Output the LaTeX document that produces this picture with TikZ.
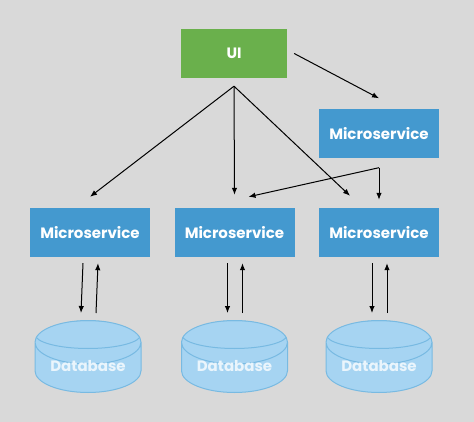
\documentclass[tikz,border=0pt]{standalone}
\usepackage{fontspec}
\setsansfont{Poppins}
\usetikzlibrary{shapes.geometric,arrows.meta}
\definecolor{bggray}{HTML}{D9D9D9}
\definecolor{uigreen}{HTML}{6AB04C}
\definecolor{msblue}{HTML}{4499CF}
\definecolor{dbfill}{HTML}{A6D4F2}
\definecolor{dbline}{HTML}{78BAE2}
\definecolor{dbtext}{HTML}{EAF5FC}
\begin{document}
\begin{tikzpicture}[
        x=1pt, y=-1pt,
        box/.style={
            rectangle,
            minimum width=120pt,
            minimum height=49pt,
            text=white,
            font=\sffamily\bfseries\fontsize{15}{17}\selectfont
        },
        database/.style={
            cylinder,
            shape border rotate=90,
            aspect=0.53,
            draw=dbline,
            line width=1pt,
            fill=dbfill,
            minimum width=106pt,
            minimum height=72pt,
            anchor=top,
            text=dbtext,
            font=\sffamily\bfseries\fontsize{15}{17}\selectfont,
            path picture={
                \draw[dbline, line width=1pt] ([yshift=-14pt]path picture bounding box.north)
                    ellipse [x radius=53pt, y radius=14pt];
            }
        },
        arrow/.style={
            -{Latex[length=7pt,width=5.5pt]},
            line width=1pt
        }
    ]

    \fill[bggray] (0,0) rectangle (474,422);

    \node[box, fill=uigreen, minimum width=106pt] (ui) at (234,53.5) {UI};
    \node[box, fill=msblue] (mstop) at (379,134) {Microservice};

    \node[box, fill=msblue] (msleft) at (90,232.5) {Microservice};
    \node[box, fill=msblue] (msmid) at (234.5,232.5) {Microservice};
    \node[box, fill=msblue] (msright) at (379,232.5) {Microservice};

    % text smashed so it sits a little above the middle of the body
    \node[database] (dbleft) at (88,320) {\smash{Database}};
    \node[database] (dbmid) at (234.5,320) {\smash{Database}};
    \node[database] (dbright) at (379,320) {\smash{Database}};

    % UI to the services
    \coordinate (fork) at ([yshift=-8pt]ui.south);
    \coordinate (split) at ([yshift=-9pt]mstop.south);
    \draw[arrow] ([xshift=7pt]ui.east) -- ([yshift=11pt]mstop.north);
    \draw[arrow] (fork) -- ([yshift=11pt]msleft.north);
    \draw[arrow] (fork) -- ([yshift=13pt]msmid.north);
    \draw[arrow] (fork) -- ([xshift=-29pt,yshift=12pt]msright.north);
    \draw[arrow] (split) -- ([yshift=8pt]msright.north);
    \draw[arrow] (split) -- ([xshift=14pt,yshift=11pt]msmid.north);

    % services to databases
    \draw[arrow] ([xshift=-7pt,yshift=-6pt]msleft.south) -- ([xshift=-7pt,yshift=7pt]dbleft.top);
    \draw[arrow] ([xshift=8pt,yshift=7pt]dbleft.top) -- ([xshift=8pt,yshift=-6pt]msleft.south);
    \draw[arrow] ([xshift=-7pt,yshift=-6pt]msmid.south) -- ([xshift=-7pt,yshift=7pt]dbmid.top);
    \draw[arrow] ([xshift=8pt,yshift=7pt]dbmid.top) -- ([xshift=8pt,yshift=-6pt]msmid.south);
    \draw[arrow] ([xshift=-7pt,yshift=-6pt]msright.south) -- ([xshift=-7pt,yshift=7pt]dbright.top);
    \draw[arrow] ([xshift=8pt,yshift=7pt]dbright.top) -- ([xshift=8pt,yshift=-6pt]msright.south);

\end{tikzpicture}
\end{document}
